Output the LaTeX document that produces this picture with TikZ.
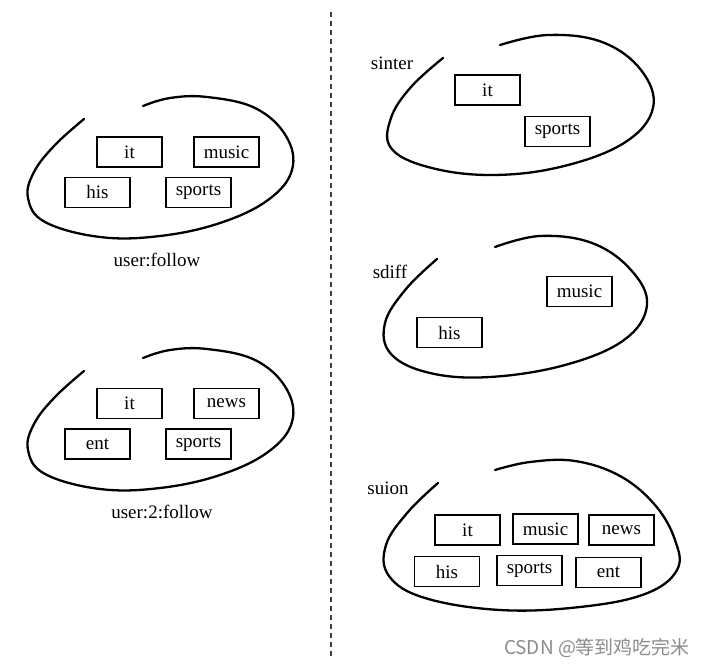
\documentclass[tikz,border=0pt]{standalone}
\usepackage{fontspec}
\setmainfont{Liberation Serif}
\newfontfamily\cjkfont{Noto Sans CJK SC}
\begin{document}
\begin{tikzpicture}[x=1pt,y=-1pt,
  setbox/.style={draw, line width=1.6pt, minimum width=65pt, minimum height=30pt, inner sep=0pt, font=\fontsize{19}{22}\selectfont},
  blob/.style={line width=2.3pt, line cap=round},
  lbl/.style={font=\fontsize{19}{22}\selectfont, inner sep=0pt}]
\useasboundingbox (0,0) rectangle (709,666);
\fill[white] (0,0) rectangle (709,666);
% dashed divider
\coordinate (dtop) at (331,12);
\coordinate (dbot) at (331,656);
\draw[line width=1.2pt, dash pattern=on 5pt off 4pt, black!75] (dtop) -- (dbot);

% blob 1 : user:follow
\draw[blob] plot[smooth, tension=0.65] coordinates {(84,119) (55,145) (34,172) (28,198) (45,222) (100,237) (160,236) (220,223) (268,200) (292,170) (286,136) (255,108) (207,97) (170,98) (143,106)};
\node[setbox] (a1) at (129.5,152) {it};
\node[setbox] (a2) at (226.5,152) {music};
\node[setbox] (a3) at (97.5,192.5) {his};
\node[setbox] (a4) at (198.5,192.5) {sports};
\node[lbl] (la) at (157,260) {user:follow};

% blob 2 : user:2:follow
\begin{scope}[yshift=-252pt]
\draw[blob] plot[smooth, tension=0.65] coordinates {(84,119) (55,145) (34,172) (28,198) (45,222) (100,237) (160,236) (220,223) (268,200) (292,170) (286,136) (255,108) (207,97) (170,98) (143,106)};
\end{scope}
\node[setbox] (b1) at (129.5,403.5) {it};
\node[setbox] (b2) at (226.5,403.5) {news};
\node[setbox] (b3) at (97.5,444) {ent};
\node[setbox] (b4) at (198.5,444) {sports};
\node[lbl] (lb) at (162,512) {user:2:follow};

% blob 3 : sinter
\draw[blob] plot[smooth, tension=0.65] coordinates {(443,58) (411,87) (391,118) (391,148) (428,167) (490,175) (560,167) (624,143) (653,108) (641,70) (602,42) (548,35) (500,45)};
\node[setbox] (c1) at (487.5,90) {it};
\node[setbox] (c2) at (557.5,131.5) {sports};
\node[lbl] (lc) at (392,63) {sinter};

% blob 4 : sdiff
\draw[blob] plot[smooth, tension=0.65] coordinates {(437,259) (406,289) (385,323) (391,354) (430,373) (490,377) (565,365) (624,340) (647,305) (631,270) (592,243) (540,236) (495,247)};
\node[setbox] (d1) at (579.5,291.5) {music};
\node[setbox] (d2) at (449.5,332.5) {his};
\node[lbl] (ld) at (390,272) {sdiff};

% blob 5 : suion
\draw[blob] plot[smooth, tension=0.65] coordinates {(438,483) (408,512) (386,545) (389,576) (425,598) (500,610) (580,607) (645,594) (677,570) (675,540) (655,505) (620,476) (575,461) (530,462) (495,470)};
\node[setbox] (e1) at (467.5,530) {it};
\node[setbox] (e2) at (545.5,529) {music};
\node[setbox] (e3) at (621.5,530) {news};
\node[setbox] (e4) at (447,571.5) {his};
\node[setbox] (e5) at (529.5,570.5) {sports};
\node[setbox] (e6) at (608.5,572.5) {ent};
\node[lbl] (le) at (388,488) {suion};

% watermark
\node[inner sep=0pt, text=black!45, font=\cjkfont\fontsize{19}{22}\selectfont] (wm) at (597,648) {CSDN @等到鸡吃完米};
\end{tikzpicture}
\end{document}
